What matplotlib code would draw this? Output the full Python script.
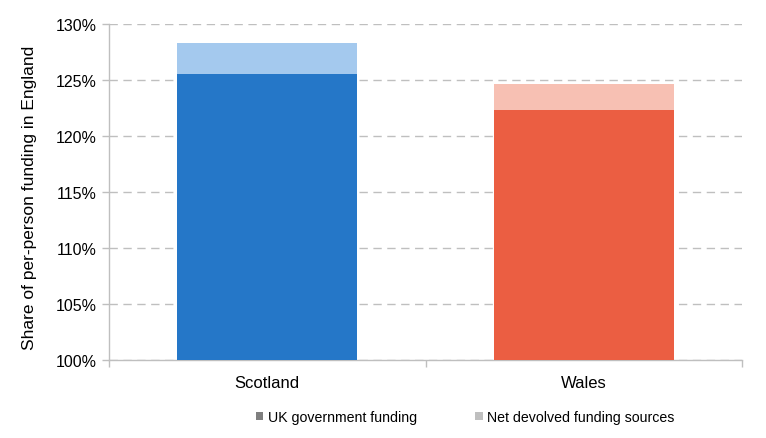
import matplotlib
matplotlib.use("Agg")
import matplotlib.pyplot as plt
from matplotlib.patches import Patch
from matplotlib.ticker import FixedLocator, FuncFormatter

plt.rcParams['font.family'] = ['Liberation Sans', 'DejaVu Sans']

categories = ["Scotland", "Wales"]
uk_gov = [125.5, 122.3]          # share of per-person funding in England (%)
net_devolved = [2.8, 2.3]        # additional from net devolved sources (%)
dark_colors = ["#2577C8", "#EB5E42"]
light_colors = ["#A4C9EE", "#F7C0B3"]
yticks = [100, 105, 110, 115, 120, 125, 130]

fig = plt.figure(figsize=(7.66, 4.39), dpi=100)
ax = fig.add_axes([0.1423, 0.1777, 0.9687 - 0.1423, 0.943 - 0.1777])

x = list(range(len(categories)))
base = 100
ax.bar(x, [v - base for v in uk_gov], bottom=base, width=0.57, color=dark_colors, zorder=3)
ax.bar(x, net_devolved, bottom=uk_gov, width=0.57, color=light_colors, zorder=3)

ax.set_xlim(-0.5, len(categories) - 0.5)
ax.set_ylim(100, 130)
ax.set_yticks(yticks)
ax.yaxis.set_major_formatter(FuncFormatter(lambda v, p: f"{v:.0f}%"))
ax.yaxis.grid(True, color="#BFBFBF", linestyle=(0, (6, 4)), linewidth=1, zorder=0)
ax.set_axisbelow(True)

ax.set_xticks(x)
ax.set_xticklabels(categories)
ax.xaxis.set_minor_locator(FixedLocator([-0.5, 0.5, 1.5]))
ax.tick_params(axis='x', which='major', length=0, labelsize=12, pad=11)
ax.tick_params(axis='x', which='minor', length=5, color="#BFBFBF", width=1)
ax.tick_params(axis='y', length=5, color="#BFBFBF", width=1, labelsize=11.5, pad=4)

for s in ["top", "right"]:
    ax.spines[s].set_visible(False)
for s in ["left", "bottom"]:
    ax.spines[s].set_color("#BFBFBF")
    ax.spines[s].set_linewidth(1)

ax.set_ylabel("Share of per-person funding in England", fontsize=12.5)
ax.yaxis.set_label_coords(-0.113, 0.485)

handles = [Patch(facecolor="#7F7F7F", edgecolor="none"),
           Patch(facecolor="#BFBFBF", edgecolor="none")]
fig.legend(handles, ["UK government funding", "Net devolved funding sources"],
           loc="center", bbox_to_anchor=(0.607, 0.048), ncol=2, frameon=False,
           fontsize=10.2, handlelength=0.55, handleheight=0.55, handletextpad=0.3,
           columnspacing=4.1)

fig.savefig("out.png", dpi=100)
